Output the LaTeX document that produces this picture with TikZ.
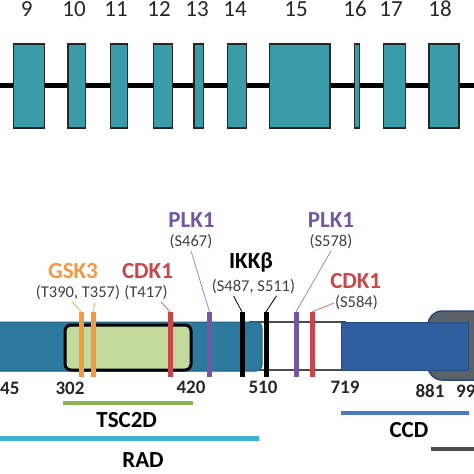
\documentclass[tikz,border=0pt]{standalone}
\usepackage{fontspec}
\setmainfont{Carlito}
\usetikzlibrary{calc}

\definecolor{exonteal}{HTML}{3A9CA8}
\definecolor{radteal}{HTML}{2D799E}
\definecolor{tscgreen}{HTML}{C4D99C}
\definecolor{ccdblue}{HTML}{2E5E9E}
\definecolor{slate}{HTML}{5A6169}
\definecolor{gskorange}{HTML}{F39A43}
\definecolor{cdkred}{HTML}{C9474B}
\definecolor{plkpurple}{HTML}{7458A4}
\definecolor{tscline}{HTML}{8DB257}
\definecolor{radline}{HTML}{3FB0CF}
\definecolor{ccdline}{HTML}{4A78BD}

\tikzset{
  exon/.style={draw=black!85, line width=1.2pt, fill=exonteal, inner sep=0pt},
  exonnum/.style={font=\fontsize{23}{23}\selectfont, text=black!85},
  site/.style={inner sep=0pt, minimum width=5pt, minimum height=65pt},
  kinase/.style={font=\bfseries\fontsize{23}{23}\selectfont, inner sep=0pt},
  residue/.style={font=\fontsize{16.5}{16.5}\selectfont, text=black!75, inner sep=0pt},
  resnum/.style={font=\bfseries\fontsize{19}{19}\selectfont, text=black!85},
  domainlabel/.style={font=\bfseries\fontsize{23}{23}\selectfont},
  leader/.style={line width=0.8pt},
}

\begin{document}
\begin{tikzpicture}[x=1pt,y=-1pt]
  \useasboundingbox (0,0) rectangle (474,474);

  % exons 9-18
  \draw[line width=5pt] (0,85) -- (474,85);
  \foreach \l/\r/\n/\tx in {13.3/44.3/9/26.7, 68/85.7/10/74, 110.7/127.7/11/116,
      153.3/172.3/12/159, 194/203.7/13/197, 227.3/246.3/14/235, 269.7/330/15/296,
      354.7/359.7/16/355, 383.3/405.7/17/391, 429/459/18/440}{
    \node[exon, minimum width=\r-\l, minimum height=84] (exon\n) at ({(\l+\r)/2},86) {};
    \node[exonnum] (num\n) at (\tx,9) {\n};
  }

  % protein bar
  \draw[draw=black!70, line width=2.5pt, fill=white] (250,322) rectangle (345,370);
  \draw[fill=radteal, draw=radteal!80!black, line width=1pt, rounded corners=6pt] (-10,322) rectangle (262,371);
  \draw[fill=slate, draw=ccdblue!80!black, line width=1.5pt, rounded corners=14pt] (428,311) rectangle (495,380);
  \draw[fill=ccdblue, draw=ccdblue!80!black, line width=1pt] (341,322) rectangle (468,370);
  \draw[fill=tscgreen, line width=3pt, rounded corners=6pt] (65,325) rectangle (191,370);

  % phosphorylation sites
  \node[site, fill=gskorange] (t390) at (81,344.5) {};
  \node[site, fill=gskorange] (t357) at (93,344.5) {};
  \node[site, fill=cdkred] (t417) at (170,344.5) {};
  \node[site, fill=plkpurple] (s467) at (209.5,344.5) {};
  \node[site, fill=black] (s487) at (242,344.5) {};
  \node[site, fill=black] (s511) at (266,344.5) {};
  \node[site, fill=plkpurple] (s578) at (296,344.5) {};
  \node[site, fill=cdkred] (s584) at (312,344.5) {};

  % kinases
  \node[kinase, text=gskorange] (gsk) at (73,271) {GSK3};
  \node[residue] (gskres) at (78,292.5) {(T390, T357)};
  \node[kinase, text=cdkred] (cdka) at (147.5,271) {CDK1};
  \node[residue] (cdkares) at (146,292.5) {(T417)};
  \node[kinase, text=plkpurple] (plka) at (191.5,220) {PLK1};
  \node[residue] (plkares) at (191,241.5) {(S467)};
  \node[kinase] (ikk) at (251,262) {IKKβ};
  \node[residue] (ikkres) at (253.5,286.5) {(S487, S511)};
  \node[kinase, text=plkpurple] (plkb) at (331,220) {PLK1};
  \node[residue] (plkbres) at (331,241.5) {(S578)};
  \node[kinase, text=cdkred] (cdkb) at (355.7,281.5) {CDK1};
  \node[residue] (cdkbres) at (356.5,303) {(S584)};

  \draw[leader, gskorange!80] (t390.north) -- ($(gskres.south)+(-6,2)$);
  \draw[leader, gskorange!80] (t357.north) -- ($(gskres.south)+(17,2)$);
  \draw[leader, cdkred!80] (t417.north) -- ($(cdkares.south)+(15,2)$);
  \draw[leader, plkpurple!70] (s467.north) -- ($(plkares.south)+(0,2)$);
  \draw[leader] (s487.north) -- ($(ikkres.south)+(-20,2)$);
  \draw[leader] (s511.north) -- ($(ikkres.south)+(23,2)$);
  \draw[leader, plkpurple!70] (s578.north) -- ($(plkbres.south)+(0,2)$);
  \draw[leader, cdkred!80] (s584.north) -- ($(cdkbres.west)+(-1,0)$);

  % positions
  \node[resnum, anchor=west, inner sep=0pt] (p245) at (0,388) {45};
  \node[resnum] (p302) at (70,388) {302};
  \node[resnum] (p420) at (191,387) {420};
  \node[resnum] (p510) at (263,387) {510};
  \node[resnum] (p719) at (345,387) {719};
  \node[resnum] (p881) at (430,391) {881};
  \node[resnum, anchor=west, inner sep=0pt] (p99) at (456,391) {99};

  % domains
  \draw[line width=4pt, tscline] (63,403) -- (193,403);
  \node[domainlabel] (tsc) at (126.7,420) {TSC2D};
  \draw[line width=5pt, radline] (0,438.5) -- (259,438.5);
  \node[domainlabel] (rad) at (143,460) {RAD};
  \draw[line width=4pt, ccdline] (341,412.7) -- (469,412.7);
  \node[domainlabel] (ccd) at (409,430) {CCD};
  \draw[line width=4pt, black!70] (431,449.3) -- (474,449.3);
\end{tikzpicture}
\end{document}
